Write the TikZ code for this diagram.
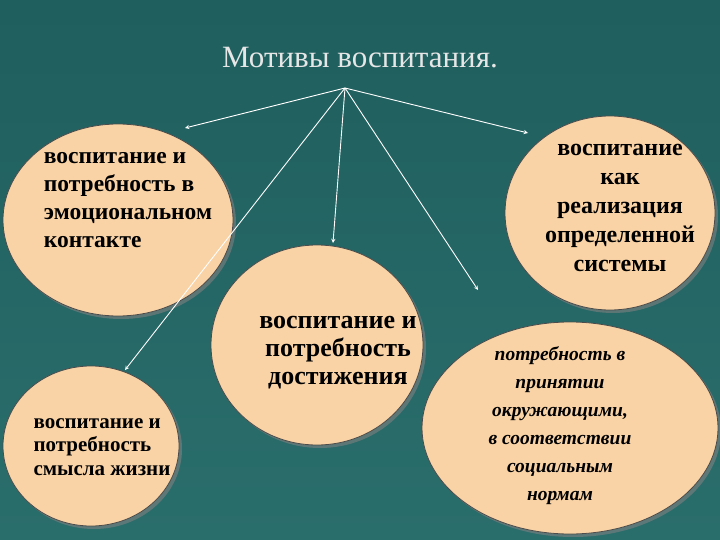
\documentclass[tikz,border=0pt]{standalone}
\usepackage{fontspec}
\setmainfont{Liberation Serif}
\usetikzlibrary{shadows}
\definecolor{bgA}{HTML}{1F5F5E}
\definecolor{bgB}{HTML}{2A6E6C}
\definecolor{peach}{HTML}{F9D3A6}
\definecolor{titlec}{HTML}{E6E6E6}
\tikzset{
  bubble/.style={draw=black!70, line width=0.8pt, fill=peach, drop shadow={shadow xshift=3pt,shadow yshift=-3pt,opacity=0.6}},
  btext/.style={align=center, text=black},
  conn/.style={draw=white, line width=0.9pt, -stealth}
}
\begin{document}
\begin{tikzpicture}[x=1pt,y=-1pt]
\useasboundingbox (0,0) rectangle (720,540);
\shade[top color=bgA, bottom color=bgB] (0,0) rectangle (720,540);
\node[font=\fontsize{31}{36}\selectfont, text=titlec] (title) at (360,58) {Мотивы воспитания.};
\coordinate (o) at (345,88);
\fill[bubble] (118,220) ellipse [x radius=115, y radius=96];
\fill[bubble] (610,213) ellipse [x radius=105, y radius=97];
\fill[bubble] (317,345) ellipse [x radius=106, y radius=100];
\fill[bubble] (91,446) ellipse [x radius=88, y radius=80];
\fill[bubble] (570,428) ellipse [x radius=148, y radius=106];
\node[btext, align=left, font=\fontsize{23.5}{28}\selectfont\bfseries] (t1) at (128,200) {воспитание и\\потребность в\\эмоциональном\\контакте};
\node[btext, font=\fontsize{24}{29}\selectfont\bfseries] (t2) at (620,208) {воспитание\\как\\реализация\\определенной\\системы};
\node[btext, font=\fontsize{26}{28}\selectfont\bfseries] (t3) at (338,353) {воспитание и\\потребность\\достижения};
\node[btext, align=left, font=\fontsize{21}{23.5}\selectfont\bfseries] (t4) at (102,447) {воспитание и\\потребность\\смысла жизни};
\node[btext, font=\fontsize{19.5}{28}\selectfont\bfseries\itshape] (t5) at (560,426) {потребность в\\принятии\\окружающими,\\в соответствии\\социальным\\нормам};
\coordinate (a1) at (185,128);
\coordinate (a2) at (528,133);
\coordinate (a3) at (333,243);
\coordinate (a4) at (125,370);
\coordinate (a5) at (478,290);
\foreach \e in {a1,a2,a3,a4,a5} \draw[conn] (o) -- (\e);
\end{tikzpicture}
\end{document}
